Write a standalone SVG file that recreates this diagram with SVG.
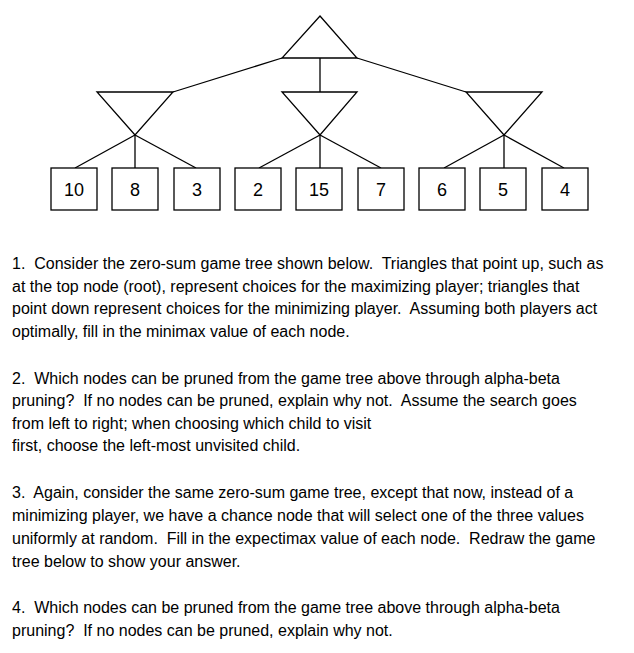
<svg xmlns="http://www.w3.org/2000/svg" width="634" height="653" viewBox="0 0 634 653">
<style>
.s{fill:#fff;stroke:#000;stroke-width:1.3}
.l{stroke:#000;stroke-width:1.3;fill:none}
.n{font-family:"Liberation Sans",Arial,sans-serif;font-size:18px;text-anchor:middle}
.t{font-family:"Liberation Sans",Arial,sans-serif;font-size:16px;fill:#000}
</style>
<rect width="634" height="653" fill="#fff"/>
<g id="connectors">
<line class="l" x1="282" y1="58" x2="173" y2="92"/>
<line class="l" x1="320" y1="58" x2="320" y2="92"/>
<line class="l" x1="357" y1="58" x2="466" y2="92"/>
<line class="l" x1="135" y1="135" x2="75" y2="168"/>
<line class="l" x1="135" y1="135" x2="135" y2="168"/>
<line class="l" x1="135" y1="135" x2="196" y2="168"/>
<line class="l" x1="320" y1="135" x2="259" y2="168"/>
<line class="l" x1="320" y1="135" x2="320" y2="168"/>
<line class="l" x1="320" y1="135" x2="381" y2="168"/>
<line class="l" x1="504" y1="135" x2="444" y2="168"/>
<line class="l" x1="504" y1="135" x2="504" y2="168"/>
<line class="l" x1="504" y1="135" x2="564" y2="168"/>
</g>
<g id="root"><polygon class="s" points="320,16 357,58 282,58"/></g>
<g id="min1"><polygon class="s" points="97,92 173,92 135,135"/></g>
<g id="min2"><polygon class="s" points="282,92 357,92 320,135"/></g>
<g id="min3"><polygon class="s" points="466,92 542,92 504,135"/></g>
<g id="leaf1"><rect class="s" x="51" y="168" width="46" height="42"/><text class="n" x="74" y="196">10</text></g>
<g id="leaf2"><rect class="s" x="112" y="168" width="46" height="42"/><text class="n" x="135" y="196">8</text></g>
<g id="leaf3"><rect class="s" x="174" y="168" width="46" height="42"/><text class="n" x="197" y="196">3</text></g>
<g id="leaf4"><rect class="s" x="235" y="168" width="46" height="42"/><text class="n" x="258" y="196">2</text></g>
<g id="leaf5"><rect class="s" x="296" y="168" width="46" height="42"/><text class="n" x="319" y="196">15</text></g>
<g id="leaf6"><rect class="s" x="358" y="168" width="46" height="42"/><text class="n" x="381" y="196">7</text></g>
<g id="leaf7"><rect class="s" x="419" y="168" width="46" height="42"/><text class="n" x="442" y="196">6</text></g>
<g id="leaf8"><rect class="s" x="480" y="168" width="46" height="42"/><text class="n" x="503" y="196">5</text></g>
<g id="leaf9"><rect class="s" x="542" y="168" width="46" height="42"/><text class="n" x="565" y="196">4</text></g>
<g class="t">
<text x="12" y="269">1.&#160; Consider the zero-sum game tree shown below.&#160; Triangles that point up, such as</text>
<text x="12" y="292">at the top node (root), represent choices for the maximizing player; triangles that</text>
<text x="12" y="314">point down represent choices for the minimizing player.&#160; Assuming both players act</text>
<text x="12" y="337">optimally, fill in the minimax value of each node.</text>
<text x="12" y="384">2.&#160; Which nodes can be pruned from the game tree above through alpha-beta</text>
<text x="12" y="406">pruning?&#160; If no nodes can be pruned, explain why not.&#160; Assume the search goes</text>
<text x="12" y="429">from left to right; when choosing which child to visit</text>
<text x="12" y="451">first, choose the left-most unvisited child.</text>
<text x="12" y="498">3.&#160; Again, consider the same zero-sum game tree, except that now, instead of a</text>
<text x="12" y="521">minimizing player, we have a chance node that will select one of the three values</text>
<text x="12" y="544">uniformly at random.&#160; Fill in the expectimax value of each node.&#160; Redraw the game</text>
<text x="12" y="567">tree below to show your answer.</text>
<text x="12" y="613">4.&#160; Which nodes can be pruned from the game tree above through alpha-beta</text>
<text x="12" y="636">pruning?&#160; If no nodes can be pruned, explain why not.</text>
</g>
</svg>
